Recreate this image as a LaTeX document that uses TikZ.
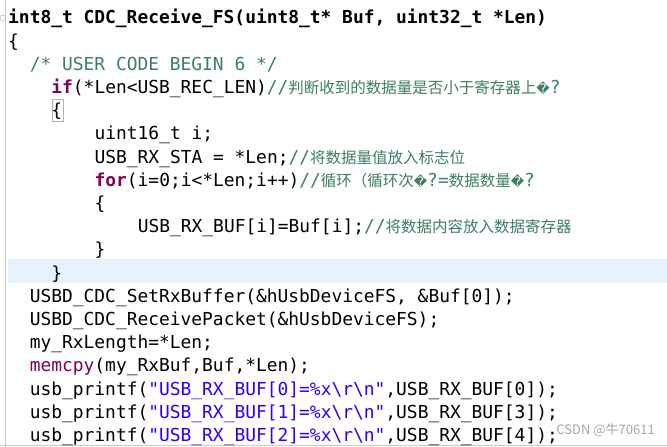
\documentclass[tikz,border=0pt]{standalone}
\usepackage{fontspec}
\newfontfamily\mono{DejaVu Sans Mono}[Scale=1]
\newfontfamily\cjk{Noto Sans CJK SC}
\newfontfamily\djv{DejaVu Sans}
\definecolor{kw}{HTML}{7F0055}
\definecolor{cm}{HTML}{3F7F5F}
\definecolor{st}{HTML}{2A00FF}
\definecolor{hl}{HTML}{E8F2FE}
\newcommand{\cc}[1]{{\cjk\fontsize{15.5}{16}\selectfont #1}}
\newcommand{\rqq}{{\djv\fontsize{13}{14}\selectfont\char"FFFD}?}
\begin{document}
\begin{tikzpicture}[x=1pt,y=1pt,
  code/.style={anchor=base west,inner sep=0pt,font=\mono\fontsize{17.9}{20}\selectfont}]
\useasboundingbox (0,0) rectangle (667,447);
\fill[white] (0,0) rectangle (667,447);
\fill[hl] (8,447-259) rectangle (667,447-283);
\draw[gray!40] (5,0) -- (5,447);
\draw[gray!40] (0,1.5) -- (667,1.5);
\draw[gray!60] (52,447-99) rectangle (63,447-121);
\draw[gray!70] (3,447-18) circle (3);
\def\L#1{447-24-23.2*#1+23.2}
\def\X#1{8+10.8*#1}
\node[code] (l1) at ({\X{0}},{\L{1}}) {\bfseries int8\_t CDC\_Receive\_FS(uint8\_t* Buf, uint32\_t *Len)};
\node[code] (l2) at ({\X{0}},{\L{2}}) {\{};
\node[code] (l3) at ({\X{2}},{\L{3}}) {\textcolor{cm}{/* USER CODE BEGIN 6 */}};
\node[code] (l4) at ({\X{4}},{\L{4}}) {\textcolor{kw}{\bfseries if}(*Len<USB\_REC\_LEN)\textcolor{cm}{//\cc{判断收到的数据量是否小于寄存器上}\rqq}};
\node[code] (l5) at ({\X{4}},{\L{5}}) {\{};
\node[code] (l6) at ({\X{8}},{\L{6}}) {uint16\_t i;};
\node[code] (l7) at ({\X{8}},{\L{7}}) {USB\_RX\_STA = *Len;\textcolor{cm}{//\cc{将数据量值放入标志位}}};
\node[code] (l8) at ({\X{8}},{\L{8}}) {\textcolor{kw}{\bfseries for}(i=0;i<*Len;i++)\textcolor{cm}{//\cc{循环（循环次}\rqq=\cc{数据数量}\rqq}};
\node[code] (l9) at ({\X{8}},{\L{9}}) {\{};
\node[code] (l10) at ({\X{12}},{\L{10}}) {USB\_RX\_BUF[i]=Buf[i];\textcolor{cm}{//\cc{将数据内容放入数据寄存器}}};
\node[code] (l11) at ({\X{8}},{\L{11}}) {\}};
\node[code] (l12) at ({\X{4}},{\L{12}}) {\}};
\node[code] (l13) at ({\X{2}},{\L{13}}) {USBD\_CDC\_SetRxBuffer(\&hUsbDeviceFS, \&Buf[0]);};
\node[code] (l14) at ({\X{2}},{\L{14}}) {USBD\_CDC\_ReceivePacket(\&hUsbDeviceFS);};
\node[code] (l15) at ({\X{2}},{\L{15}}) {my\_RxLength=*Len;};
\node[code] (l16) at ({\X{2}},{\L{16}}) {\textcolor{kw}{memcpy}(my\_RxBuf,Buf,*Len);};
\node[code] (l17) at ({\X{2}},{\L{17}}) {usb\_printf(\textcolor{st}{"USB\_RX\_BUF[0]=\%x\textbackslash r\textbackslash n"},USB\_RX\_BUF[0]);};
\node[code] (l18) at ({\X{2}},{\L{18}}) {usb\_printf(\textcolor{st}{"USB\_RX\_BUF[1]=\%x\textbackslash r\textbackslash n"},USB\_RX\_BUF[3]);};
\node[code] (l19) at ({\X{2}},{\L{19}}) {usb\_printf(\textcolor{st}{"USB\_RX\_BUF[2]=\%x\textbackslash r\textbackslash n"},USB\_RX\_BUF[4]);};
\node[anchor=base east,inner sep=0pt,text=gray!70,font=\cjk\fontsize{13}{14}\selectfont] (wm) at (655,447-435) {CSDN @牛70611};
\end{tikzpicture}
\end{document}
